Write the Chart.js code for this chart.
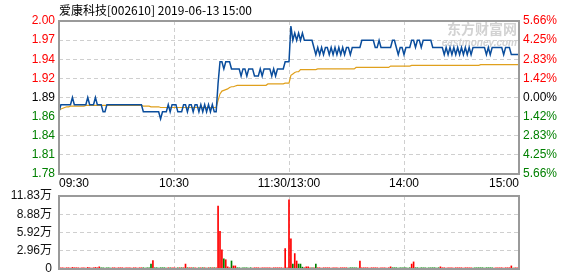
<!DOCTYPE html>
<html><head><meta charset="utf-8">
<script src="https://cdn.jsdelivr.net/npm/chart.js@4/dist/chart.umd.min.js"></script>
<style>
html,body{margin:0;padding:0;background:#fff;width:578px;height:276px;overflow:hidden;}
#c1{position:absolute;left:0;top:0;}
#c2{position:absolute;left:0;top:185px;}
</style></head><body>
<canvas id="c1" width="578" height="195"></canvas>
<canvas id="c2" width="578" height="91"></canvas>
<script>
const title = "爱康科技[002610] 2019-06-13 15:00";
const prevClose = 1.89;
const limitPct = 5.66;
const timeLabels = ["09:30","10:30","11:30/13:00","14:00","15:00"];
const priceLabels = ["2.00","1.97","1.94","1.92","1.89","1.86","1.84","1.81","1.78"];
const pctLabels = ["5.66%","4.25%","2.83%","1.42%","0.00%","1.42%","2.83%","4.25%","5.66%"];
const volLabels = ["11.83万","8.88万","5.92万","2.96万","0"];
const volMax = 11.83;

const price = [
1.87,1.88,1.88,1.88,1.88,1.88,1.88,1.89,1.88,1.88,
1.88,1.88,1.88,1.88,1.88,1.89,1.88,1.88,1.88,1.89,
1.88,1.88,1.88,1.87,1.87,1.88,1.88,1.88,1.88,1.88,
1.88,1.88,1.88,1.88,1.88,1.88,1.88,1.88,1.88,1.88,
1.88,1.88,1.88,1.88,1.87,1.87,1.87,1.87,1.87,1.87,
1.87,1.87,1.87,1.86,1.87,1.87,1.87,1.88,1.87,1.88,
1.88,1.88,1.87,1.87,1.87,1.88,1.88,1.87,1.88,1.88,
1.87,1.88,1.88,1.87,1.88,1.87,1.88,1.87,1.88,1.87,
1.88,1.87,1.87,1.91,1.94,1.94,1.93,1.94,1.94,1.94,
1.93,1.93,1.93,1.93,1.93,1.92,1.93,1.93,1.92,1.93,
1.93,1.93,1.92,1.92,1.92,1.93,1.92,1.93,1.93,1.93,
1.93,1.92,1.93,1.92,1.93,1.93,1.93,1.93,1.94,1.94,
1.94,1.99,1.97,1.98,1.97,1.98,1.97,1.98,1.97,1.97,
1.97,1.97,1.97,1.96,1.95,1.96,1.95,1.96,1.95,1.96,
1.96,1.95,1.96,1.95,1.96,1.95,1.96,1.95,1.96,1.95,
1.96,1.96,1.95,1.96,1.96,1.96,1.96,1.96,1.97,1.97,
1.97,1.97,1.97,1.97,1.97,1.96,1.96,1.97,1.96,1.96,
1.96,1.96,1.96,1.96,1.97,1.97,1.96,1.95,1.96,1.96,
1.95,1.96,1.96,1.96,1.97,1.97,1.96,1.97,1.97,1.96,
1.97,1.97,1.97,1.97,1.97,1.96,1.96,1.96,1.96,1.96,
1.96,1.95,1.96,1.95,1.96,1.95,1.96,1.95,1.96,1.95,
1.96,1.95,1.96,1.95,1.96,1.95,1.96,1.96,1.96,1.96,
1.96,1.96,1.96,1.95,1.96,1.95,1.96,1.96,1.96,1.96,
1.96,1.96,1.95,1.96,1.96,1.96,1.95,1.95,1.95,1.95,
1.95];

const avgPrice = [
1.872,1.874,1.875,1.876,1.877,1.877,1.878,1.878,1.878,1.878,
1.878,1.878,1.878,1.878,1.879,1.879,1.879,1.879,1.879,1.879,
1.879,1.879,1.879,1.879,1.879,1.879,1.879,1.879,1.879,1.879,
1.879,1.879,1.879,1.879,1.879,1.879,1.879,1.879,1.879,1.879,
1.879,1.879,1.879,1.879,1.878,1.878,1.878,1.878,1.877,1.877,
1.877,1.877,1.877,1.876,1.876,1.876,1.876,1.876,1.876,1.876,
1.876,1.876,1.876,1.876,1.876,1.876,1.876,1.876,1.876,1.876,
1.876,1.876,1.876,1.876,1.876,1.876,1.876,1.876,1.876,1.876,
1.876,1.876,1.876,1.886,1.895,1.899,1.900,1.901,1.902,1.904,
1.905,1.905,1.906,1.907,1.907,1.907,1.907,1.907,1.907,1.907,
1.907,1.907,1.907,1.907,1.907,1.907,1.907,1.907,1.907,1.909,
1.909,1.909,1.909,1.909,1.909,1.909,1.909,1.909,1.910,1.910,
1.910,1.921,1.923,1.925,1.926,1.926,1.929,1.929,1.929,1.929,
1.929,1.929,1.929,1.929,1.929,1.930,1.930,1.930,1.930,1.930,
1.930,1.930,1.930,1.930,1.930,1.930,1.930,1.930,1.930,1.930,
1.930,1.930,1.930,1.930,1.930,1.932,1.932,1.932,1.932,1.932,
1.932,1.932,1.932,1.932,1.932,1.932,1.932,1.932,1.932,1.932,
1.932,1.932,1.932,1.934,1.934,1.934,1.934,1.934,1.934,1.934,
1.934,1.934,1.934,1.934,1.935,1.935,1.935,1.935,1.935,1.935,
1.935,1.935,1.935,1.935,1.935,1.935,1.935,1.935,1.935,1.935,
1.935,1.935,1.935,1.935,1.935,1.935,1.935,1.935,1.935,1.935,
1.935,1.935,1.935,1.935,1.935,1.935,1.935,1.935,1.935,1.935,
1.936,1.936,1.936,1.936,1.936,1.936,1.936,1.936,1.936,1.936,
1.936,1.936,1.936,1.936,1.936,1.936,1.936,1.936,1.936,1.936,
1.936];

const volume = [
0.3,0.2,0.2,0.15,0.2,0.2,0.15,0.25,0.2,0.2,
0.2,0.15,0.2,0.2,0.15,0.25,0.2,0.15,0.2,0.25,
0.2,0.35,0.2,0.2,0.15,0.2,0.2,0.15,0.2,0.2,
0.15,0.2,0.2,0.2,0.15,0.2,0.2,0.2,0.15,0.2,
0.2,0.15,0.2,0.2,0.2,0.15,0.2,0.2,0.8,1.35,
0.2,0.2,0.15,0.2,0.2,0.2,0.15,0.2,0.2,0.2,
0.2,0.15,0.2,0.2,0.2,0.2,0.8,0.2,0.2,0.2,
0.2,0.2,0.15,0.2,0.2,0.2,0.2,0.15,0.2,0.2,
0.2,0.2,0.2,10.2,6.1,3.1,1.65,1.5,0.35,0.2,
1.3,0.5,0.5,0.2,0.2,0.15,0.2,0.2,0.2,0.15,
0.2,0.15,0.2,0.2,0.2,0.15,0.2,0.2,0.2,0.2,
0.2,0.15,0.2,0.2,0.2,0.2,0.2,0.15,3.3,0.2,
11.2,4.9,0.8,2.5,1.3,0.8,0.8,0.3,0.2,0.35,
0.35,0.2,0.2,0.2,0.8,0.2,0.2,0.15,0.2,0.2,
0.2,0.2,0.15,0.2,0.2,0.2,0.15,0.2,0.2,0.2,
0.2,0.15,0.2,0.2,0.2,0.2,0.15,1.3,0.2,0.2,
0.2,0.2,0.15,0.2,0.2,0.2,0.2,0.15,0.2,0.2,
0.2,0.15,0.2,0.35,0.2,0.2,0.2,0.15,0.2,0.2,
0.2,0.2,0.15,0.2,0.8,1.15,0.2,0.2,0.15,0.2,
0.2,0.2,0.15,0.2,0.2,0.2,0.2,0.15,0.2,0.35,
0.2,0.2,0.15,0.2,0.2,0.2,0.15,0.2,0.2,0.2,
0.2,0.15,0.2,0.2,0.2,0.2,0.15,0.2,0.2,0.2,
0.2,0.2,0.15,0.2,0.2,0.2,0.2,0.15,0.2,0.2,
0.2,0.2,0.15,0.2,0.2,0.2,0.5,0.15,0.2,0.2,
0.5];

// r = up (red), g = down (green), one letter per minute
const volSide = [
"rrrrrrrrrr","rrrrrrrrrr","rrggggggrr","rrrrrrrrrr","rrrrgggggr",
"gggggggrgr","rrgrgrrgrr","grrgrgrgrg","rgrrrrgrrr","grrggggggg",
"grrrrrrrrr","rrrrrrrrrr","rrgrrgggrr","rrgrgrrrrr","rrrrrrrrrr",
"rggggggrrr","rrrrrrrrrr","rrrrgggggg","ggggrrgggg","gggggggggr",
"rrrrrrrrrr","rrrrrrgggg","gggggggrrr","rrrrrrrgrr","r"
].join('').split('');

const RED = '#ff0000', GREEN = '#008000', GRID = '#cfcfcf', FRAME = '#9a9a9a';
const tickFont = {family: '"Liberation Sans", "Noto Sans CJK SC", sans-serif', size: 12};

const pMin = prevClose * (1 - limitPct / 100);
const pMax = prevClose * (1 + limitPct / 100);
const pTicks = priceLabels.map((_, i) => pMin + (pMax - pMin) * i / (priceLabels.length - 1));
const vTicks = volLabels.map((_, i) => volMax * i / (volLabels.length - 1));
const xTicks = timeLabels.map((_, i) => 240 * i / (timeLabels.length - 1));

const levelColor = (ctx) => ctx.index < 4 ? GREEN : (ctx.index === 4 ? '#000' : RED);

const framePlugin = {
  id: 'frame',
  afterDraw(chart) {
    const {ctx, chartArea: a} = chart;
    ctx.save();
    ctx.strokeStyle = FRAME;
    ctx.lineWidth = 2;
    ctx.strokeRect(a.left, a.top, a.right - a.left, a.bottom - a.top);
    ctx.restore();
  }
};

const titlePlugin = {
  id: 'titleText',
  beforeDatasetsDraw(chart) {
    const {ctx, chartArea: a} = chart;
    ctx.save();
    ctx.fillStyle = 'rgba(205,205,205,0.9)';
    ctx.textAlign = 'right';
    ctx.textBaseline = 'middle';
    ctx.font = 'bold 14px "Noto Sans CJK SC"';
    ctx.fillText('东方财富网', a.right - 2, a.top + 8);
    ctx.font = 'italic bold 10px "Liberation Sans"';
    ctx.fillText('eastmoney.com', a.right - 2, a.top + 22);
    ctx.restore();
  },
  afterDraw(chart) {
    const {ctx, chartArea: a} = chart;
    ctx.save();
    ctx.fillStyle = '#000';
    ctx.textAlign = 'left';
    ctx.textBaseline = 'middle';
    ctx.font = '12px "Noto Sans CJK SC"';
    ctx.fillText(title, a.left, 10);
    ctx.restore();
  }
};

const zeroPad = (s) => { s.paddingTop = 0; s.paddingBottom = 0; s.paddingLeft = 0; s.paddingRight = 0; };

new Chart(document.getElementById('c1'), {
  type: 'line',
  data: {
    datasets: [
      {data: price.map((v, i) => ({x: i, y: v})), borderColor: '#0a4d9c', borderWidth: 1.5,
       pointRadius: 0, tension: 0, fill: false, yAxisID: 'y'},
      {data: avgPrice.map((v, i) => ({x: i, y: v})), borderColor: '#e0a01c', borderWidth: 1.2,
       pointRadius: 0, tension: 0, fill: false, yAxisID: 'y'}
    ]
  },
  options: {
    responsive: false, animation: false, events: [],
    layout: {padding: {top: 21, left: 0, right: 0, bottom: 0}},
    plugins: {legend: {display: false}, tooltip: {enabled: false}, title: {display: false}},
    scales: {
      x: {
        type: 'linear', min: 0, max: 240,
        afterBuildTicks: (s) => { s.ticks = xTicks.map(v => ({value: v})); },
        ticks: {callback: (v, i) => timeLabels[i], align: 'inner', maxRotation: 0, autoSkip: false,
                color: '#000', font: tickFont, padding: 2},
        grid: {color: (c) => (c.index > 0 && c.index < timeLabels.length - 1) ? GRID : 'rgba(0,0,0,0)',
               drawTicks: false, lineWidth: 1},
        border: {display: false, dash: [4, 3]},
        afterFit: (s) => { s.height = 21; zeroPad(s); }
      },
      y: {
        position: 'left', min: pMin, max: pMax,
        afterBuildTicks: (s) => { s.ticks = pTicks.map(v => ({value: v})); },
        ticks: {callback: (v, i) => priceLabels[priceLabels.length - 1 - i], color: levelColor,
                font: tickFont, padding: 4, autoSkip: false},
        grid: {color: (c) => (c.index > 0 && c.index < priceLabels.length - 1) ? GRID : 'rgba(0,0,0,0)',
               drawTicks: false, lineWidth: 1},
        border: {display: false, dash: [4, 3]},
        afterFit: (s) => { s.width = 59; zeroPad(s); }
      },
      y2: {
        position: 'right', min: pMin, max: pMax,
        afterBuildTicks: (s) => { s.ticks = pTicks.map(v => ({value: v})); },
        ticks: {callback: (v, i) => pctLabels[pctLabels.length - 1 - i], color: levelColor,
                font: tickFont, padding: 4, autoSkip: false},
        grid: {display: false, drawTicks: false},
        border: {display: false},
        afterFit: (s) => { s.width = 59; zeroPad(s); }
      }
    }
  },
  plugins: [titlePlugin, framePlugin]
});

new Chart(document.getElementById('c2'), {
  type: 'bar',
  data: {
    datasets: [{
      data: volume.map((v, i) => ({x: i, y: v})),
      backgroundColor: volSide.map(s => s === 'r' ? RED : GREEN),
      barThickness: 1, borderWidth: 0
    }]
  },
  options: {
    responsive: false, animation: false, events: [],
    layout: {padding: {top: 11, left: 0, right: 59, bottom: 7}},
    plugins: {legend: {display: false}, tooltip: {enabled: false}},
    scales: {
      x: {
        type: 'linear', min: 0, max: 240, offset: false,
        afterBuildTicks: (s) => { s.ticks = xTicks.map(v => ({value: v})); },
        ticks: {display: false},
        grid: {color: (c) => (c.index > 0 && c.index < timeLabels.length - 1) ? GRID : 'rgba(0,0,0,0)',
               drawTicks: false, lineWidth: 1, offset: false},
        border: {display: false, dash: [4, 3]},
        afterFit: (s) => { s.height = 0; zeroPad(s); }
      },
      y: {
        position: 'left', min: 0, max: volMax,
        afterBuildTicks: (s) => { s.ticks = vTicks.map(v => ({value: v})); },
        ticks: {callback: (v, i) => volLabels[volLabels.length - 1 - i], color: '#111',
                font: tickFont, padding: 7, autoSkip: false},
        grid: {color: (c) => (c.index > 0 && c.index < volLabels.length - 1) ? GRID : 'rgba(0,0,0,0)',
               drawTicks: false, lineWidth: 1},
        border: {display: false, dash: [4, 3]},
        afterFit: (s) => { s.width = 59; zeroPad(s); }
      }
    }
  },
  plugins: [framePlugin]
});
</script>
</body></html>
